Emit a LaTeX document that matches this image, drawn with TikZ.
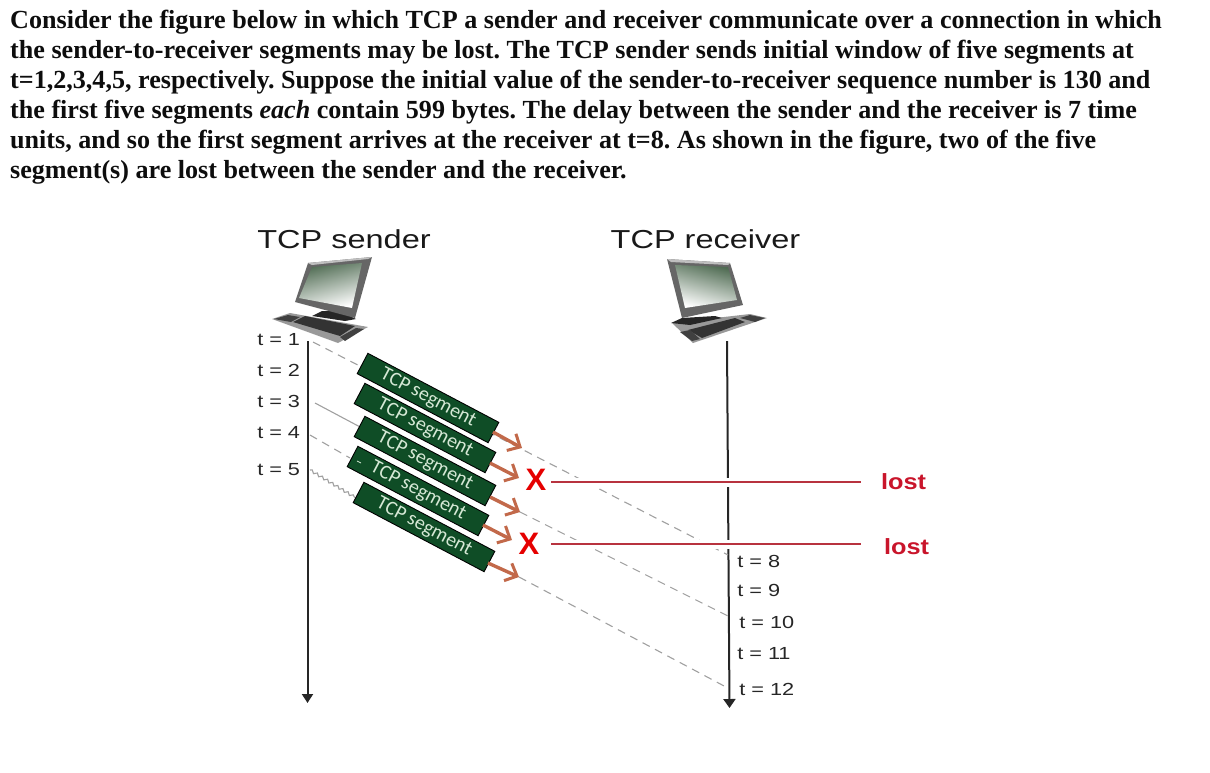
\documentclass[tikz,border=0pt]{standalone}
\usepackage{fontspec}
\setmainfont{Liberation Serif}
\setsansfont{Liberation Sans}
\newfontfamily\segfont{Carlito}
\usetikzlibrary{arrows.meta,decorations.pathmorphing}
\definecolor{segfill}{HTML}{0F4D26}
\definecolor{segtext}{HTML}{D5E8D5}
\definecolor{arrowc}{HTML}{C2694A}
\definecolor{lostred}{HTML}{C9152B}
\definecolor{linered}{HTML}{B8333F}
\definecolor{dashc}{HTML}{A0A0A0}
\definecolor{scrtop}{HTML}{4F6B52}
\tikzset{
 para/.style={anchor=base west,inner sep=0pt,font=\bfseries\fontsize{26.1}{30}\selectfont,text=black!95},
 host/.style={inner sep=0pt,font=\sffamily\fontsize{26}{28}\selectfont,xscale=1.25,transform shape,text=black!90},
 tick/.style={anchor=west,inner sep=0pt,font=\sffamily\fontsize{17.5}{20}\selectfont,xscale=1.24,transform shape,text=black!85},
 lostlabel/.style={inner sep=0pt,font=\sffamily\bfseries\fontsize{22}{24}\selectfont,text=lostred,xscale=1.15,transform shape},
 segbox/.style={draw=black,line width=0.9pt,fill=segfill,text=segtext,minimum width=148pt,minimum height=23pt,inner sep=0pt,rotate=-27.8,font=\segfont\fontsize{20}{22}\selectfont},
 segarrow/.style={draw=arrowc,line width=3.4pt,-{Straight Barb[length=10pt,width=19pt,line width=3pt]}},
 dashline/.style={draw=dashc,line width=1.1pt,dash pattern=on 8pt off 6pt},
 greyline/.style={draw=dashc,line width=1.1pt},
 axisline/.style={draw=black!85,line width=2pt},
 redline/.style={draw=linered,line width=1.4pt,preaction={draw=white,line width=9pt}},
 xmark/.style={inner sep=0pt,font=\sffamily\bfseries\fontsize{31}{32}\selectfont,text=red!90!black},
}
\begin{document}
\begin{tikzpicture}[x=1pt,y=-1pt]
\useasboundingbox (0,0) rectangle (1210,772);
% question text
\frenchspacing
\node[para] (l1) at (10,28) {Consider the figure below in which TCP a sender and receiver communicate over a connection in which};
\node[para] (l2) at (10,58) {the sender-to-receiver segments may be lost. The TCP sender sends initial window of five segments at};
\node[para] (l3) at (10,88) {t=1,2,3,4,5, respectively. Suppose the initial value of the sender-to-receiver sequence number is 130 and};
\node[para] (l4) at (10,118) {the first five segments \textit{each} contain 599 bytes. The delay between the sender and the receiver is 7 time};
\node[para] (l5) at (10,148) {units, and so the first segment arrives at the receiver at t=8. As shown in the figure, two of the five};
\node[para] (l6) at (10,178) {segment(s) are lost between the sender and the receiver.};
% titles
\node[host] (snd) at (344,239) {TCP sender};
\node[host] (rcv) at (705.5,239) {TCP receiver};
% sender computer
\fill[black!40] (272,319) -- (290,313) -- (368,327) -- (338,343) -- cycle;
\fill[black!80] (293,322) -- (305,316) -- (355,326) -- (340,336) -- cycle;
\fill[black!75] (274,319) -- (288,315) -- (300,317) -- (291,322) -- cycle;
\fill[black!75] (340,337) -- (356,328) -- (364,329) -- (345,341) -- cycle;
\fill[black!85] (312,316) -- (322,311) -- (340,311) -- (356,319) -- (345,321) -- cycle;
\fill[black!60] (308,263) -- (372,257) -- (355,318) -- (295,302) -- cycle;
\fill[black!25] (308,263) -- (372,257) -- (368,259) -- (312,265) -- cycle;
\shade[top color=scrtop,bottom color=white,shading angle=15] (312,267) -- (362,263) -- (352,308) -- (299,298) -- cycle;
% receiver computer
\fill[black!40] (672,323) -- (693,343) -- (767,318) -- (750,314) -- cycle;
\fill[black!80] (688,330) -- (702,338) -- (745,322) -- (735,318) -- cycle;
\fill[black!75] (750,315) -- (765,318) -- (755,322) -- (740,318) -- cycle;
\fill[black!75] (680,332) -- (690,330) -- (700,339) -- (692,341) -- cycle;
\fill[black!85] (671,323) -- (682,318) -- (715,316) -- (722,318) -- (690,325) -- cycle;
\fill[black!60] (667,259) -- (730,263) -- (743,305) -- (682,318) -- cycle;
\fill[black!25] (667,259) -- (730,263) -- (728,265) -- (671,262) -- cycle;
\shade[top color=scrtop,bottom color=white,shading angle=-15] (675,265) -- (728,267) -- (737,300) -- (685,308) -- cycle;
% named ends
\coordinate (s1) at (313,342);
\coordinate (s3) at (315,403);
\coordinate (s4) at (310,435);
\coordinate (s4e) at (350,458);
\coordinate (s5) at (310,470);
\coordinate (s5e) at (356,498);
\coordinate (r8) at (728,555);
\coordinate (r10) at (730,617);
\coordinate (r12) at (726,687);
\coordinate (a1s) at (493,432); \coordinate (a1e) at (522,448);
\coordinate (a2s) at (490,463); \coordinate (a2e) at (519,478);
\coordinate (a3s) at (490,497); \coordinate (a3e) at (520,512);
\coordinate (a4s) at (483,525); \coordinate (a4e) at (512,540);
\coordinate (a5s) at (488,563); \coordinate (a5e) at (519,577);
% time lines and packet paths
\coordinate (st) at (307.5,341); \coordinate (sb) at (307.5,703);
\coordinate (rt) at (727,341); \coordinate (rb) at (729.5,708);
\draw[axisline,-{Triangle[length=9pt,width=11pt]}] (st) -- (sb);
\draw[axisline,-{Triangle[length=9pt,width=12pt]}] (rt) -- (rb);
\draw[dashline] (s1) -- (r8);
\draw[greyline] (s3) -- (a3e);
\draw[dashline] (a3e) -- (r10);
\draw[dashline] (s4) -- (s4e);
\draw[greyline,decorate,decoration={snake,amplitude=1.3pt,segment length=6pt}] (s5) -- (s5e);
\draw[dashline] (a5e) -- (r12);
% segments
\node[segbox] (seg1) at (428,398) {TCP segment};
\node[segbox] (seg2) at (425,428) {TCP segment};
\node[segbox] (seg3) at (425,461) {TCP segment};
\node[segbox] (seg4) at (418,491) {TCP segment};
\node[segbox] (seg5) at (424,527) {TCP segment};
\draw[draw=segtext,line width=0.7pt] (357,461) -- (361,463);
\draw[segarrow] (a1s) -- (a1e);
\draw[segarrow] (a2s) -- (a2e);
\draw[segarrow] (a3s) -- (a3e);
\draw[segarrow] (a4s) -- (a4e);
\draw[segarrow] (a5s) -- (a5e);
% losses
\node[xmark] (x1) at (536,480) {X};
\node[xmark] (x2) at (529,544) {X};
\node[lostlabel] (lost1) at (903.5,482) {lost};
\node[lostlabel] (lost2) at (906.5,547) {lost};
\coordinate (x1e) at (551,482); \coordinate (l1e) at (861,482);
\coordinate (x2e) at (551,544); \coordinate (l2e) at (861,544);
\draw[redline] (x1e) -- (l1e);
\draw[redline] (x2e) -- (l2e);
% time labels
\node[tick] (t1) at (257,340) {t = 1};
\node[tick] (t2) at (257,370) {t = 2};
\node[tick] (t3) at (257,401) {t = 3};
\node[tick] (t4) at (257,433) {t = 4};
\node[tick] (t5) at (257,470) {t = 5};
\node[tick] (t8) at (737,561) {t = 8};
\node[tick] (t9) at (737,590) {t = 9};
\node[tick] (t10) at (739,622) {t = 10};
\node[tick] (t11) at (737,654) {t = 11};
\node[tick] (t12) at (739,689) {t = 12};
\end{tikzpicture}
\end{document}
